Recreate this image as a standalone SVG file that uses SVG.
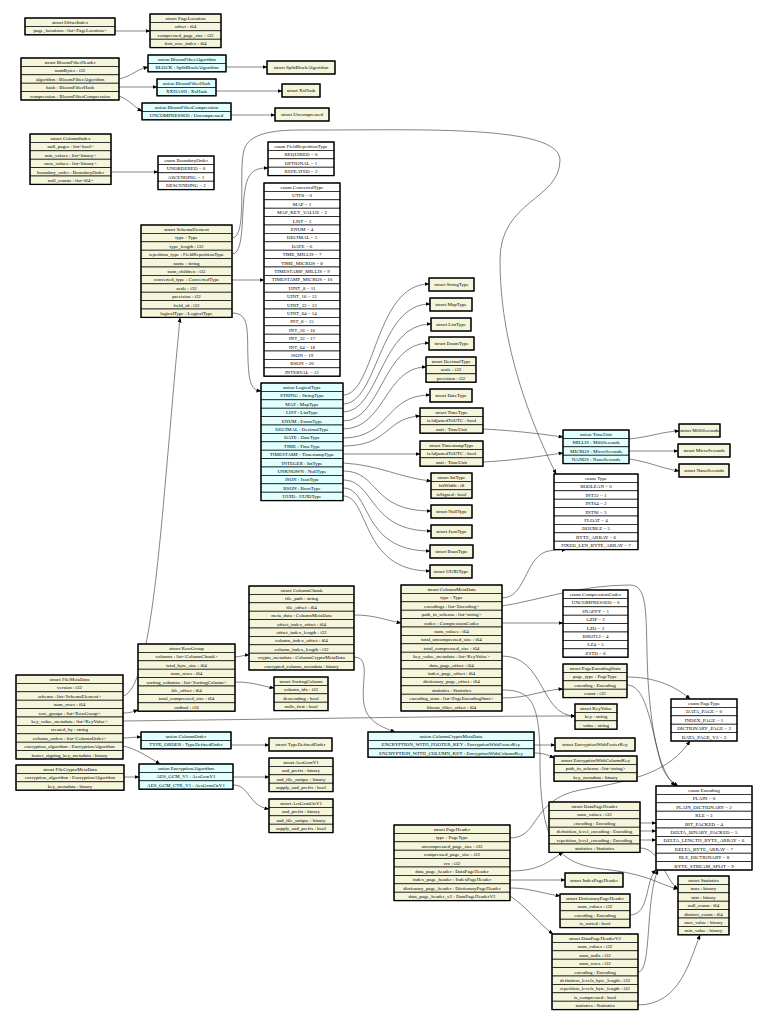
<svg xmlns="http://www.w3.org/2000/svg" width="768" height="1024" viewBox="0 0 768 1024">
<style>
.s rect{fill:#f5f5dc;stroke:#000;stroke-width:.7}
.u rect{fill:#e0ffff;stroke:#000;stroke-width:.7}
.e rect{fill:#fff;stroke:#000;stroke-width:.7}
rect.o{fill:none!important;stroke-width:1.3!important}
text{font-family:"Liberation Serif",serif;font-size:5px;text-anchor:middle;fill:#000}
#edges path{fill:none;stroke:#333;stroke-width:.6;marker-end:url(#a)}
</style>
<defs><marker id="a" markerUnits="userSpaceOnUse" markerWidth="5" markerHeight="4" refX="4.5" refY="2" orient="auto"><path d="M0,0L5,2L0,4z" fill="#000"/></marker></defs>
<rect width="768" height="1024" fill="#fff"/>
<g id="edges">
<path d="M115,31C132,31 135,31 150,31"/>
<path d="M119,79C132,76 135,70 148,67"/>
<path d="M119,87C135,87 140,87 157,87"/>
<path d="M119,96C130,100 135,108 142,111"/>
<path d="M226,67C245,67 250,67 267,67"/>
<path d="M216,91C245,91 260,91 282,91"/>
<path d="M231,115C250,115 260,115 275,115"/>
<path d="M111,172C130,172 140,172 158,172"/>
<path d="M232,238C248,238 238,170 244,150C250,128 290,130 320,130C420,130 560,125 560,160C560,200 500,200 500,260C500,330 520,400 556,474"/>
<path d="M232,254C248,254 238,190 250,175C255,168 262,168 268,168"/>
<path d="M232,280C245,280 250,280 264,280"/>
<path d="M232,313C250,313 247,330 248,360C249,385 252,390 261,391"/>
<path d="M343,395C375,395 375,284 429,284"/>
<path d="M343,404C378,404 378,304 430,304"/>
<path d="M343,412C380,412 380,324 431,324"/>
<path d="M343,421C382,421 382,343 429,343"/>
<path d="M343,429C385,429 385,367 426,367"/>
<path d="M343,438C390,438 385,395 430,395"/>
<path d="M343,446C390,446 385,418 420,416"/>
<path d="M343,454C380,454 390,454 420,454"/>
<path d="M343,463C380,465 400,478 431,481"/>
<path d="M343,471C380,471 370,511 431,511"/>
<path d="M343,480C375,480 368,531 431,531"/>
<path d="M343,488C372,488 360,551 430,551"/>
<path d="M343,496C370,496 360,571 430,571"/>
<path d="M483,429C520,431 540,434 563,437"/>
<path d="M483,462C520,460 540,456 563,453"/>
<path d="M629,439C650,437 660,432 679,431"/>
<path d="M629,451C650,451 660,451 678,451"/>
<path d="M629,459C650,462 660,468 679,471"/>
<path d="M123,696C150,690 160,540 170,430C175,370 178,340 180,318"/>
<path d="M123,713C130,713 132,712 138,710"/>
<path d="M123,721C300,719 450,716 575,716"/>
<path d="M123,738C130,738 134,737 141,737"/>
<path d="M123,746C135,748 150,758 160,764"/>
<path d="M231,745C250,745 255,745 269,745"/>
<path d="M124,777C130,777 133,777 139,777"/>
<path d="M233,777C250,777 255,777 269,777"/>
<path d="M233,785C250,785 248,806 269,809"/>
<path d="M235,657C240,657 243,655 249,655"/>
<path d="M235,682C255,682 260,686 274,688"/>
<path d="M354,615C375,615 385,620 401,623"/>
<path d="M354,657C375,657 355,695 368,715C375,725 385,728 395,732"/>
<path d="M502,598C525,598 525,560 545,552C555,549 562,550 566,549"/>
<path d="M502,606C540,600 580,585 630,585C650,585 645,620 648,680C652,740 660,770 675,786"/>
<path d="M502,623C530,623 540,623 563,623"/>
<path d="M502,656C545,656 540,716 575,716"/>
<path d="M502,690C530,690 540,700 540,760C540,850 560,865 610,870C650,875 660,885 678,889"/>
<path d="M502,698C530,698 540,690 563,689"/>
<path d="M627,677C660,677 680,690 690,699"/>
<path d="M627,685C645,685 650,720 660,760C665,778 672,782 678,786"/>
<path d="M534,745C542,745 548,745 555,745"/>
<path d="M534,753C543,753 548,755 554,758"/>
<path d="M510,838C540,838 530,800 580,790C640,780 670,770 690,741"/>
<path d="M510,871C535,871 545,865 563,852"/>
<path d="M510,880C535,880 545,880 565,880"/>
<path d="M510,888C530,888 540,893 560,896"/>
<path d="M510,896C525,905 540,925 553,934"/>
<path d="M640,823C646,823 650,823 656,823"/>
<path d="M640,831C646,831 650,831 656,831"/>
<path d="M640,840C646,840 650,840 656,840"/>
<path d="M640,848C660,848 665,880 678,889"/>
<path d="M630,915C650,915 645,880 656,870"/>
<path d="M638,972C652,972 645,900 658,870"/>
<path d="M638,1005C680,1005 690,960 700,935"/>
</g>
<g id="OffsetIndex" class="s" transform="translate(25,18)"><rect width="90" height="8.4"/><rect y="8.4" width="90" height="8.4"/><rect class="o" width="90" height="16.8"/><text x="45" y="6">struct OffsetIndex</text><text x="45" y="14.4">page_locations : list&lt;PageLocation&gt;</text></g>
<g id="PageLocation" class="s" transform="translate(150,14)"><rect width="71" height="8.4"/><rect y="8.4" width="71" height="8.4"/><rect y="16.8" width="71" height="8.4"/><rect y="25.2" width="71" height="8.4"/><rect class="o" width="71" height="33.6"/><text x="35.5" y="6">struct PageLocation</text><text x="35.5" y="14.4">offset : i64</text><text x="35.5" y="22.8">compressed_page_size : i32</text><text x="35.5" y="31.2">first_row_index : i64</text></g>
<g id="BloomFilterHeader" class="s" transform="translate(21,58)"><rect width="98" height="8.4"/><rect y="8.4" width="98" height="8.4"/><rect y="16.8" width="98" height="8.4"/><rect y="25.2" width="98" height="8.4"/><rect y="33.6" width="98" height="8.4"/><rect class="o" width="98" height="42"/><text x="49" y="6">struct BloomFilterHeader</text><text x="49" y="14.4">numBytes : i32</text><text x="49" y="22.8">algorithm : BloomFilterAlgorithm</text><text x="49" y="31.2">hash : BloomFilterHash</text><text x="49" y="39.6">compression : BloomFilterCompression</text></g>
<g id="BloomFilterAlgorithm" class="u" transform="translate(148,55)"><rect width="78" height="8.4"/><rect y="8.4" width="78" height="8.4"/><rect class="o" width="78" height="16.8"/><text x="39" y="6">union BloomFilterAlgorithm</text><text x="39" y="14.4">BLOCK : SplitBlockAlgorithm</text></g>
<g id="SplitBlockAlgorithm" class="s" transform="translate(267,61)"><rect width="68" height="13"/><rect class="o" width="68" height="13"/><text x="34" y="8.3">struct SplitBlockAlgorithm</text></g>
<g id="BloomFilterHash" class="u" transform="translate(157,79)"><rect width="59" height="8.4"/><rect y="8.4" width="59" height="8.4"/><rect class="o" width="59" height="16.8"/><text x="29.5" y="6">union BloomFilterHash</text><text x="29.5" y="14.4">XXHASH : XxHash</text></g>
<g id="XxHash" class="s" transform="translate(282,84)"><rect width="38" height="13"/><rect class="o" width="38" height="13"/><text x="19" y="8.3">struct XxHash</text></g>
<g id="BloomFilterCompression" class="u" transform="translate(142,103)"><rect width="89" height="8.4"/><rect y="8.4" width="89" height="8.4"/><rect class="o" width="89" height="16.8"/><text x="44.5" y="6">union BloomFilterCompression</text><text x="44.5" y="14.4">UNCOMPRESSED : Uncompressed</text></g>
<g id="Uncompressed" class="s" transform="translate(275,108)"><rect width="54" height="13"/><rect class="o" width="54" height="13"/><text x="27" y="8.3">struct Uncompressed</text></g>
<g id="ColumnIndex" class="s" transform="translate(30,134)"><rect width="81" height="8.4"/><rect y="8.4" width="81" height="8.4"/><rect y="16.8" width="81" height="8.4"/><rect y="25.2" width="81" height="8.4"/><rect y="33.6" width="81" height="8.4"/><rect y="42" width="81" height="8.4"/><rect class="o" width="81" height="50.4"/><text x="40.5" y="6">struct ColumnIndex</text><text x="40.5" y="14.4">null_pages : list&lt;bool&gt;</text><text x="40.5" y="22.8">min_values : list&lt;binary&gt;</text><text x="40.5" y="31.2">max_values : list&lt;binary&gt;</text><text x="40.5" y="39.6">boundary_order : BoundaryOrder</text><text x="40.5" y="48">null_counts : list&lt;i64&gt;</text></g>
<g id="BoundaryOrder" class="e" transform="translate(158,156)"><rect width="56" height="8.4"/><rect y="8.4" width="56" height="8.4"/><rect y="16.8" width="56" height="8.4"/><rect y="25.2" width="56" height="8.4"/><rect class="o" width="56" height="33.6"/><text x="28" y="6">enum BoundaryOrder</text><text x="28" y="14.4">UNORDERED = 0</text><text x="28" y="22.8">ASCENDING = 1</text><text x="28" y="31.2">DESCENDING = 2</text></g>
<g id="FieldRepetitionType" class="e" transform="translate(268,142)"><rect width="66" height="8.4"/><rect y="8.4" width="66" height="8.4"/><rect y="16.8" width="66" height="8.4"/><rect y="25.2" width="66" height="8.4"/><rect class="o" width="66" height="33.6"/><text x="33" y="6">enum FieldRepetitionType</text><text x="33" y="14.4">REQUIRED = 0</text><text x="33" y="22.8">OPTIONAL = 1</text><text x="33" y="31.2">REPEATED = 2</text></g>
<g id="ConvertedType" class="e" transform="translate(264,183)">
<rect width="76" height="8.4"/><rect y="8.4" width="76" height="8.4"/><rect y="16.8" width="76" height="8.4"/><rect y="25.2" width="76" height="8.4"/><rect y="33.6" width="76" height="8.4"/><rect y="42" width="76" height="8.4"/><rect y="50.4" width="76" height="8.4"/><rect y="58.8" width="76" height="8.4"/><rect y="67.2" width="76" height="8.4"/><rect y="75.6" width="76" height="8.4"/><rect y="84" width="76" height="8.4"/><rect y="92.4" width="76" height="8.4"/><rect y="100.8" width="76" height="8.4"/><rect y="109.2" width="76" height="8.4"/><rect y="117.6" width="76" height="8.4"/><rect y="126" width="76" height="8.4"/><rect y="134.4" width="76" height="8.4"/><rect y="142.8" width="76" height="8.4"/><rect y="151.2" width="76" height="8.4"/><rect y="159.6" width="76" height="8.4"/><rect y="168" width="76" height="8.4"/><rect y="176.4" width="76" height="8.4"/><rect y="184.8" width="76" height="8.4"/><rect class="o" width="76" height="193.2"/>
<text x="38" y="6">enum ConvertedType</text><text x="38" y="14.4">UTF8 = 0</text><text x="38" y="22.8">MAP = 1</text><text x="38" y="31.2">MAP_KEY_VALUE = 2</text><text x="38" y="39.6">LIST = 3</text><text x="38" y="48">ENUM = 4</text><text x="38" y="56.4">DECIMAL = 5</text><text x="38" y="64.8">DATE = 6</text><text x="38" y="73.2">TIME_MILLIS = 7</text><text x="38" y="81.6">TIME_MICROS = 8</text><text x="38" y="90">TIMESTAMP_MILLIS = 9</text><text x="38" y="98.4">TIMESTAMP_MICROS = 10</text><text x="38" y="106.8">UINT_8 = 11</text><text x="38" y="115.2">UINT_16 = 12</text><text x="38" y="123.6">UINT_32 = 13</text><text x="38" y="132">UINT_64 = 14</text><text x="38" y="140.4">INT_8 = 15</text><text x="38" y="148.8">INT_16 = 16</text><text x="38" y="157.2">INT_32 = 17</text><text x="38" y="165.6">INT_64 = 18</text><text x="38" y="174">JSON = 19</text><text x="38" y="182.4">BSON = 20</text><text x="38" y="190.8">INTERVAL = 21</text></g>
<g id="SchemaElement" class="s" transform="translate(141,225)">
<rect width="91" height="8.4"/><rect y="8.4" width="91" height="8.4"/><rect y="16.8" width="91" height="8.4"/><rect y="25.2" width="91" height="8.4"/><rect y="33.6" width="91" height="8.4"/><rect y="42" width="91" height="8.4"/><rect y="50.4" width="91" height="8.4"/><rect y="58.8" width="91" height="8.4"/><rect y="67.2" width="91" height="8.4"/><rect y="75.6" width="91" height="8.4"/><rect y="84" width="91" height="8.4"/><rect class="o" width="91" height="92.4"/>
<text x="45.5" y="6">struct SchemaElement</text><text x="45.5" y="14.4">type : Type</text><text x="45.5" y="22.8">type_length : i32</text><text x="45.5" y="31.2">repetition_type : FieldRepetitionType</text><text x="45.5" y="39.6">name : string</text><text x="45.5" y="48">num_children : i32</text><text x="45.5" y="56.4">converted_type : ConvertedType</text><text x="45.5" y="64.8">scale : i32</text><text x="45.5" y="73.2">precision : i32</text><text x="45.5" y="81.6">field_id : i32</text><text x="45.5" y="90">logicalType : LogicalType</text></g>
<g id="LogicalType" class="u" transform="translate(261,383)">
<rect width="82" height="8.4"/><rect y="8.4" width="82" height="8.4"/><rect y="16.8" width="82" height="8.4"/><rect y="25.2" width="82" height="8.4"/><rect y="33.6" width="82" height="8.4"/><rect y="42" width="82" height="8.4"/><rect y="50.4" width="82" height="8.4"/><rect y="58.8" width="82" height="8.4"/><rect y="67.2" width="82" height="8.4"/><rect y="75.6" width="82" height="8.4"/><rect y="84" width="82" height="8.4"/><rect y="92.4" width="82" height="8.4"/><rect y="100.8" width="82" height="8.4"/><rect y="109.2" width="82" height="8.4"/><rect class="o" width="82" height="117.6"/>
<text x="41" y="6">union LogicalType</text><text x="41" y="14.4">STRING : StringType</text><text x="41" y="22.8">MAP : MapType</text><text x="41" y="31.2">LIST : ListType</text><text x="41" y="39.6">ENUM : EnumType</text><text x="41" y="48">DECIMAL : DecimalType</text><text x="41" y="56.4">DATE : DateType</text><text x="41" y="64.8">TIME : TimeType</text><text x="41" y="73.2">TIMESTAMP : TimestampType</text><text x="41" y="81.6">INTEGER : IntType</text><text x="41" y="90">UNKNOWN : NullType</text><text x="41" y="98.4">JSON : JsonType</text><text x="41" y="106.8">BSON : BsonType</text><text x="41" y="115.2">UUID : UUIDType</text></g>
<g id="StringType" class="s" transform="translate(429,278)"><rect width="45" height="13"/><rect class="o" width="45" height="13"/><text x="22.5" y="8.3">struct StringType</text></g>
<g id="MapType" class="s" transform="translate(430,298)"><rect width="42" height="13"/><rect class="o" width="42" height="13"/><text x="21" y="8.3">struct MapType</text></g>
<g id="ListType" class="s" transform="translate(431,318)"><rect width="40" height="13"/><rect class="o" width="40" height="13"/><text x="20" y="8.3">struct ListType</text></g>
<g id="EnumType" class="s" transform="translate(429,337)"><rect width="45" height="13"/><rect class="o" width="45" height="13"/><text x="22.5" y="8.3">struct EnumType</text></g>
<g id="DecimalType" class="s" transform="translate(426,357)"><rect width="50" height="8.4"/><rect y="8.4" width="50" height="8.4"/><rect y="16.8" width="50" height="8.4"/><rect class="o" width="50" height="25.2"/><text x="25" y="6">struct DecimalType</text><text x="25" y="14.4">scale : i32</text><text x="25" y="22.8">precision : i32</text></g>
<g id="DateType" class="s" transform="translate(430,389)"><rect width="42" height="13"/><rect class="o" width="42" height="13"/><text x="21" y="8.3">struct DateType</text></g>
<g id="TimeType" class="s" transform="translate(420,408)"><rect width="63" height="8.4"/><rect y="8.4" width="63" height="8.4"/><rect y="16.8" width="63" height="8.4"/><rect class="o" width="63" height="25.2"/><text x="31.5" y="6">struct TimeType</text><text x="31.5" y="14.4">isAdjustedToUTC : bool</text><text x="31.5" y="22.8">unit : TimeUnit</text></g>
<g id="TimestampType" class="s" transform="translate(420,441)"><rect width="63" height="8.4"/><rect y="8.4" width="63" height="8.4"/><rect y="16.8" width="63" height="8.4"/><rect class="o" width="63" height="25.2"/><text x="31.5" y="6">struct TimestampType</text><text x="31.5" y="14.4">isAdjustedToUTC : bool</text><text x="31.5" y="22.8">unit : TimeUnit</text></g>
<g id="IntType" class="s" transform="translate(431,473)"><rect width="41" height="8.4"/><rect y="8.4" width="41" height="8.4"/><rect y="16.8" width="41" height="8.4"/><rect class="o" width="41" height="25.2"/><text x="20.5" y="6">struct IntType</text><text x="20.5" y="14.4">bitWidth : i8</text><text x="20.5" y="22.8">isSigned : bool</text></g>
<g id="NullType" class="s" transform="translate(431,505)"><rect width="41" height="13"/><rect class="o" width="41" height="13"/><text x="20.5" y="8.3">struct NullType</text></g>
<g id="JsonType" class="s" transform="translate(431,525)"><rect width="41" height="13"/><rect class="o" width="41" height="13"/><text x="20.5" y="8.3">struct JsonType</text></g>
<g id="BsonType" class="s" transform="translate(430,545)"><rect width="43" height="13"/><rect class="o" width="43" height="13"/><text x="21.5" y="8.3">struct BsonType</text></g>
<g id="UUIDType" class="s" transform="translate(430,565)"><rect width="42" height="13"/><rect class="o" width="42" height="13"/><text x="21" y="8.3">struct UUIDType</text></g>
<g id="TimeUnit" class="u" transform="translate(563,430)"><rect width="66" height="8.4"/><rect y="8.4" width="66" height="8.4"/><rect y="16.8" width="66" height="8.4"/><rect y="25.2" width="66" height="8.4"/><rect class="o" width="66" height="33.6"/><text x="33" y="6">union TimeUnit</text><text x="33" y="14.4">MILLIS : MilliSeconds</text><text x="33" y="22.8">MICROS : MicroSeconds</text><text x="33" y="31.2">NANOS : NanoSeconds</text></g>
<g id="MilliSeconds" class="s" transform="translate(679,424)"><rect width="41" height="13"/><rect class="o" width="41" height="13"/><text x="20.5" y="8.3">struct MilliSeconds</text></g>
<g id="MicroSeconds" class="s" transform="translate(678,444)"><rect width="52" height="13"/><rect class="o" width="52" height="13"/><text x="26" y="8.3">struct MicroSeconds</text></g>
<g id="NanoSeconds" class="s" transform="translate(679,464)"><rect width="50" height="13"/><rect class="o" width="50" height="13"/><text x="25" y="8.3">struct NanoSeconds</text></g>
<g id="Type" class="e" transform="translate(554,474)"><rect width="84" height="8.4"/><rect y="8.4" width="84" height="8.4"/><rect y="16.8" width="84" height="8.4"/><rect y="25.2" width="84" height="8.4"/><rect y="33.6" width="84" height="8.4"/><rect y="42" width="84" height="8.4"/><rect y="50.4" width="84" height="8.4"/><rect y="58.8" width="84" height="8.4"/><rect y="67.2" width="84" height="8.4"/><rect class="o" width="84" height="75.6"/><text x="42" y="6">enum Type</text><text x="42" y="14.4">BOOLEAN = 0</text><text x="42" y="22.8">INT32 = 1</text><text x="42" y="31.2">INT64 = 2</text><text x="42" y="39.6">INT96 = 3</text><text x="42" y="48">FLOAT = 4</text><text x="42" y="56.4">DOUBLE = 5</text><text x="42" y="64.8">BYTE_ARRAY = 6</text><text x="42" y="73.2">FIXED_LEN_BYTE_ARRAY = 7</text></g>
<g id="ColumnChunk" class="s" transform="translate(249,586)"><rect width="105" height="8.4"/><rect y="8.4" width="105" height="8.4"/><rect y="16.8" width="105" height="8.4"/><rect y="25.2" width="105" height="8.4"/><rect y="33.6" width="105" height="8.4"/><rect y="42" width="105" height="8.4"/><rect y="50.4" width="105" height="8.4"/><rect y="58.8" width="105" height="8.4"/><rect y="67.2" width="105" height="8.4"/><rect y="75.6" width="105" height="8.4"/><rect class="o" width="105" height="84"/><text x="52.5" y="6">struct ColumnChunk</text><text x="52.5" y="14.4">file_path : string</text><text x="52.5" y="22.8">file_offset : i64</text><text x="52.5" y="31.2">meta_data : ColumnMetaData</text><text x="52.5" y="39.6">offset_index_offset : i64</text><text x="52.5" y="48">offset_index_length : i32</text><text x="52.5" y="56.4">column_index_offset : i64</text><text x="52.5" y="64.8">column_index_length : i32</text><text x="52.5" y="73.2">crypto_metadata : ColumnCryptoMetaData</text><text x="52.5" y="81.6">encrypted_column_metadata : binary</text></g>
<g id="RowGroup" class="s" transform="translate(138,644)"><rect width="97" height="8.4"/><rect y="8.4" width="97" height="8.4"/><rect y="16.8" width="97" height="8.4"/><rect y="25.2" width="97" height="8.4"/><rect y="33.6" width="97" height="8.4"/><rect y="42" width="97" height="8.4"/><rect y="50.4" width="97" height="8.4"/><rect y="58.8" width="97" height="8.4"/><rect class="o" width="97" height="67.2"/><text x="48.5" y="6">struct RowGroup</text><text x="48.5" y="14.4">columns : list&lt;ColumnChunk&gt;</text><text x="48.5" y="22.8">total_byte_size : i64</text><text x="48.5" y="31.2">num_rows : i64</text><text x="48.5" y="39.6">sorting_columns : list&lt;SortingColumn&gt;</text><text x="48.5" y="48">file_offset : i64</text><text x="48.5" y="56.4">total_compressed_size : i64</text><text x="48.5" y="64.8">ordinal : i16</text></g>
<g id="SortingColumn" class="s" transform="translate(274,677)"><rect width="54" height="8.4"/><rect y="8.4" width="54" height="8.4"/><rect y="16.8" width="54" height="8.4"/><rect y="25.2" width="54" height="8.4"/><rect class="o" width="54" height="33.6"/><text x="27" y="6">struct SortingColumn</text><text x="27" y="14.4">column_idx : i32</text><text x="27" y="22.8">descending : bool</text><text x="27" y="31.2">nulls_first : bool</text></g>
<g id="FileMetaData" class="s" transform="translate(16,675)"><rect width="107" height="8.4"/><rect y="8.4" width="107" height="8.4"/><rect y="16.8" width="107" height="8.4"/><rect y="25.2" width="107" height="8.4"/><rect y="33.6" width="107" height="8.4"/><rect y="42" width="107" height="8.4"/><rect y="50.4" width="107" height="8.4"/><rect y="58.8" width="107" height="8.4"/><rect y="67.2" width="107" height="8.4"/><rect y="75.6" width="107" height="8.4"/><rect class="o" width="107" height="84"/><text x="53.5" y="6">struct FileMetaData</text><text x="53.5" y="14.4">version : i32</text><text x="53.5" y="22.8">schema : list&lt;SchemaElement&gt;</text><text x="53.5" y="31.2">num_rows : i64</text><text x="53.5" y="39.6">row_groups : list&lt;RowGroup&gt;</text><text x="53.5" y="48">key_value_metadata : list&lt;KeyValue&gt;</text><text x="53.5" y="56.4">created_by : string</text><text x="53.5" y="64.8">column_orders : list&lt;ColumnOrder&gt;</text><text x="53.5" y="73.2">encryption_algorithm : EncryptionAlgorithm</text><text x="53.5" y="81.6">footer_signing_key_metadata : binary</text></g>
<g id="ColumnOrder" class="u" transform="translate(141,732)"><rect width="90" height="8.4"/><rect y="8.4" width="90" height="8.4"/><rect class="o" width="90" height="16.8"/><text x="45" y="6">union ColumnOrder</text><text x="45" y="14.4">TYPE_ORDER : TypeDefinedOrder</text></g>
<g id="TypeDefinedOrder" class="s" transform="translate(269,738)"><rect width="63" height="13"/><rect class="o" width="63" height="13"/><text x="31.5" y="8.3">struct TypeDefinedOrder</text></g>
<g id="FileCryptoMetaData" class="s" transform="translate(16,765)"><rect width="108" height="8.4"/><rect y="8.4" width="108" height="8.4"/><rect y="16.8" width="108" height="8.4"/><rect class="o" width="108" height="25.2"/><text x="54" y="6">struct FileCryptoMetaData</text><text x="54" y="14.4">encryption_algorithm : EncryptionAlgorithm</text><text x="54" y="22.8">key_metadata : binary</text></g>
<g id="EncryptionAlgorithm" class="u" transform="translate(139,764)"><rect width="94" height="8.4"/><rect y="8.4" width="94" height="8.4"/><rect y="16.8" width="94" height="8.4"/><rect class="o" width="94" height="25.2"/><text x="47" y="6">union EncryptionAlgorithm</text><text x="47" y="14.4">AES_GCM_V1 : AesGcmV1</text><text x="47" y="22.8">AES_GCM_CTR_V1 : AesGcmCtrV1</text></g>
<g id="AesGcmV1" class="s" transform="translate(269,758)"><rect width="64" height="8.4"/><rect y="8.4" width="64" height="8.4"/><rect y="16.8" width="64" height="8.4"/><rect y="25.2" width="64" height="8.4"/><rect class="o" width="64" height="33.6"/><text x="32" y="6">struct AesGcmV1</text><text x="32" y="14.4">aad_prefix : binary</text><text x="32" y="22.8">aad_file_unique : binary</text><text x="32" y="31.2">supply_aad_prefix : bool</text></g>
<g id="AesGcmCtrV1" class="s" transform="translate(269,799)"><rect width="64" height="8.4"/><rect y="8.4" width="64" height="8.4"/><rect y="16.8" width="64" height="8.4"/><rect y="25.2" width="64" height="8.4"/><rect class="o" width="64" height="33.6"/><text x="32" y="6">struct AesGcmCtrV1</text><text x="32" y="14.4">aad_prefix : binary</text><text x="32" y="22.8">aad_file_unique : binary</text><text x="32" y="31.2">supply_aad_prefix : bool</text></g>
<g id="ColumnMetaData" class="s" transform="translate(401,585)"><rect width="101" height="8.4"/><rect y="8.4" width="101" height="8.4"/><rect y="16.8" width="101" height="8.4"/><rect y="25.2" width="101" height="8.4"/><rect y="33.6" width="101" height="8.4"/><rect y="42" width="101" height="8.4"/><rect y="50.4" width="101" height="8.4"/><rect y="58.8" width="101" height="8.4"/><rect y="67.2" width="101" height="8.4"/><rect y="75.6" width="101" height="8.4"/><rect y="84" width="101" height="8.4"/><rect y="92.4" width="101" height="8.4"/><rect y="100.8" width="101" height="8.4"/><rect y="109.2" width="101" height="8.4"/><rect y="117.6" width="101" height="8.4"/><rect class="o" width="101" height="126"/><text x="50.5" y="6">struct ColumnMetaData</text><text x="50.5" y="14.4">type : Type</text><text x="50.5" y="22.8">encodings : list&lt;Encoding&gt;</text><text x="50.5" y="31.2">path_in_schema : list&lt;string&gt;</text><text x="50.5" y="39.6">codec : CompressionCodec</text><text x="50.5" y="48">num_values : i64</text><text x="50.5" y="56.4">total_uncompressed_size : i64</text><text x="50.5" y="64.8">total_compressed_size : i64</text><text x="50.5" y="73.2">key_value_metadata : list&lt;KeyValue&gt;</text><text x="50.5" y="81.6">data_page_offset : i64</text><text x="50.5" y="90">index_page_offset : i64</text><text x="50.5" y="98.4">dictionary_page_offset : i64</text><text x="50.5" y="106.8">statistics : Statistics</text><text x="50.5" y="115.2">encoding_stats : list&lt;PageEncodingStats&gt;</text><text x="50.5" y="123.6">bloom_filter_offset : i64</text></g>
<g id="CompressionCodec" class="e" transform="translate(563,590)"><rect width="65" height="8.4"/><rect y="8.4" width="65" height="8.4"/><rect y="16.8" width="65" height="8.4"/><rect y="25.2" width="65" height="8.4"/><rect y="33.6" width="65" height="8.4"/><rect y="42" width="65" height="8.4"/><rect y="50.4" width="65" height="8.4"/><rect y="58.8" width="65" height="8.4"/><rect class="o" width="65" height="67.2"/><text x="32.5" y="6">enum CompressionCodec</text><text x="32.5" y="14.4">UNCOMPRESSED = 0</text><text x="32.5" y="22.8">SNAPPY = 1</text><text x="32.5" y="31.2">GZIP = 2</text><text x="32.5" y="39.6">LZO = 3</text><text x="32.5" y="48">BROTLI = 4</text><text x="32.5" y="56.4">LZ4 = 5</text><text x="32.5" y="64.8">ZSTD = 6</text></g>
<g id="PageEncodingStats" class="s" transform="translate(563,664)"><rect width="64" height="8.4"/><rect y="8.4" width="64" height="8.4"/><rect y="16.8" width="64" height="8.4"/><rect y="25.2" width="64" height="8.4"/><rect class="o" width="64" height="33.6"/><text x="32" y="6">struct PageEncodingStats</text><text x="32" y="14.4">page_type : PageType</text><text x="32" y="22.8">encoding : Encoding</text><text x="32" y="31.2">count : i32</text></g>
<g id="KeyValue" class="s" transform="translate(575,704)"><rect width="42" height="8.4"/><rect y="8.4" width="42" height="8.4"/><rect y="16.8" width="42" height="8.4"/><rect class="o" width="42" height="25.2"/><text x="21" y="6">struct KeyValue</text><text x="21" y="14.4">key : string</text><text x="21" y="22.8">value : string</text></g>
<g id="ColumnCryptoMetaData" class="u" transform="translate(368,732)"><rect width="166" height="8.4"/><rect y="8.4" width="166" height="8.4"/><rect y="16.8" width="166" height="8.4"/><rect class="o" width="166" height="25.2"/><text x="83" y="6">union ColumnCryptoMetaData</text><text x="83" y="14.4">ENCRYPTION_WITH_FOOTER_KEY : EncryptionWithFooterKey</text><text x="83" y="22.8">ENCRYPTION_WITH_COLUMN_KEY : EncryptionWithColumnKey</text></g>
<g id="EncryptionWithFooterKey" class="s" transform="translate(555,738)"><rect width="80" height="13"/><rect class="o" width="80" height="13"/><text x="40" y="8.3">struct EncryptionWithFooterKey</text></g>
<g id="EncryptionWithColumnKey" class="s" transform="translate(554,756)"><rect width="83" height="8.4"/><rect y="8.4" width="83" height="8.4"/><rect y="16.8" width="83" height="8.4"/><rect class="o" width="83" height="25.2"/><text x="41.5" y="6">struct EncryptionWithColumnKey</text><text x="41.5" y="14.4">path_in_schema : list&lt;string&gt;</text><text x="41.5" y="22.8">key_metadata : binary</text></g>
<g id="PageType" class="e" transform="translate(671,699)"><rect width="66" height="8.4"/><rect y="8.4" width="66" height="8.4"/><rect y="16.8" width="66" height="8.4"/><rect y="25.2" width="66" height="8.4"/><rect y="33.6" width="66" height="8.4"/><rect class="o" width="66" height="42"/><text x="33" y="6">enum PageType</text><text x="33" y="14.4">DATA_PAGE = 0</text><text x="33" y="22.8">INDEX_PAGE = 1</text><text x="33" y="31.2">DICTIONARY_PAGE = 2</text><text x="33" y="39.6">DATA_PAGE_V2 = 3</text></g>
<g id="Encoding" class="e" transform="translate(656,786)"><rect width="96" height="8.4"/><rect y="8.4" width="96" height="8.4"/><rect y="16.8" width="96" height="8.4"/><rect y="25.2" width="96" height="8.4"/><rect y="33.6" width="96" height="8.4"/><rect y="42" width="96" height="8.4"/><rect y="50.4" width="96" height="8.4"/><rect y="58.8" width="96" height="8.4"/><rect y="67.2" width="96" height="8.4"/><rect y="75.6" width="96" height="8.4"/><rect class="o" width="96" height="84"/><text x="48" y="6">enum Encoding</text><text x="48" y="14.4">PLAIN = 0</text><text x="48" y="22.8">PLAIN_DICTIONARY = 2</text><text x="48" y="31.2">RLE = 3</text><text x="48" y="39.6">BIT_PACKED = 4</text><text x="48" y="48">DELTA_BINARY_PACKED = 5</text><text x="48" y="56.4">DELTA_LENGTH_BYTE_ARRAY = 6</text><text x="48" y="64.8">DELTA_BYTE_ARRAY = 7</text><text x="48" y="73.2">RLE_DICTIONARY = 8</text><text x="48" y="81.6">BYTE_STREAM_SPLIT = 9</text></g>
<g id="DataPageHeader" class="s" transform="translate(549,802)"><rect width="91" height="8.4"/><rect y="8.4" width="91" height="8.4"/><rect y="16.8" width="91" height="8.4"/><rect y="25.2" width="91" height="8.4"/><rect y="33.6" width="91" height="8.4"/><rect y="42" width="91" height="8.4"/><rect class="o" width="91" height="50.4"/><text x="45.5" y="6">struct DataPageHeader</text><text x="45.5" y="14.4">num_values : i32</text><text x="45.5" y="22.8">encoding : Encoding</text><text x="45.5" y="31.2">definition_level_encoding : Encoding</text><text x="45.5" y="39.6">repetition_level_encoding : Encoding</text><text x="45.5" y="48">statistics : Statistics</text></g>
<g id="PageHeader" class="s" transform="translate(394,825)"><rect width="116" height="8.4"/><rect y="8.4" width="116" height="8.4"/><rect y="16.8" width="116" height="8.4"/><rect y="25.2" width="116" height="8.4"/><rect y="33.6" width="116" height="8.4"/><rect y="42" width="116" height="8.4"/><rect y="50.4" width="116" height="8.4"/><rect y="58.8" width="116" height="8.4"/><rect y="67.2" width="116" height="8.4"/><rect class="o" width="116" height="75.6"/><text x="58" y="6">struct PageHeader</text><text x="58" y="14.4">type : PageType</text><text x="58" y="22.8">uncompressed_page_size : i32</text><text x="58" y="31.2">compressed_page_size : i32</text><text x="58" y="39.6">crc : i32</text><text x="58" y="48">data_page_header : DataPageHeader</text><text x="58" y="56.4">index_page_header : IndexPageHeader</text><text x="58" y="64.8">dictionary_page_header : DictionaryPageHeader</text><text x="58" y="73.2">data_page_header_v2 : DataPageHeaderV2</text></g>
<g id="IndexPageHeader" class="s" transform="translate(565,873)"><rect width="58" height="14"/><rect class="o" width="58" height="14"/><text x="29" y="8.8">struct IndexPageHeader</text></g>
<g id="DictionaryPageHeader" class="s" transform="translate(560,894)"><rect width="70" height="8.4"/><rect y="8.4" width="70" height="8.4"/><rect y="16.8" width="70" height="8.4"/><rect y="25.2" width="70" height="8.4"/><rect class="o" width="70" height="33.6"/><text x="35" y="6">struct DictionaryPageHeader</text><text x="35" y="14.4">num_values : i32</text><text x="35" y="22.8">encoding : Encoding</text><text x="35" y="31.2">is_sorted : bool</text></g>
<g id="DataPageHeaderV2" class="s" transform="translate(552,934)"><rect width="86" height="8.4"/><rect y="8.4" width="86" height="8.4"/><rect y="16.8" width="86" height="8.4"/><rect y="25.2" width="86" height="8.4"/><rect y="33.6" width="86" height="8.4"/><rect y="42" width="86" height="8.4"/><rect y="50.4" width="86" height="8.4"/><rect y="58.8" width="86" height="8.4"/><rect y="67.2" width="86" height="8.4"/><rect class="o" width="86" height="75.6"/><text x="43" y="6">struct DataPageHeaderV2</text><text x="43" y="14.4">num_values : i32</text><text x="43" y="22.8">num_nulls : i32</text><text x="43" y="31.2">num_rows : i32</text><text x="43" y="39.6">encoding : Encoding</text><text x="43" y="48">definition_levels_byte_length : i32</text><text x="43" y="56.4">repetition_levels_byte_length : i32</text><text x="43" y="64.8">is_compressed : bool</text><text x="43" y="73.2">statistics : Statistics</text></g>
<g id="Statistics" class="s" transform="translate(678,876)"><rect width="51" height="8.4"/><rect y="8.4" width="51" height="8.4"/><rect y="16.8" width="51" height="8.4"/><rect y="25.2" width="51" height="8.4"/><rect y="33.6" width="51" height="8.4"/><rect y="42" width="51" height="8.4"/><rect y="50.4" width="51" height="8.4"/><rect class="o" width="51" height="58.8"/><text x="25.5" y="6">struct Statistics</text><text x="25.5" y="14.4">max : binary</text><text x="25.5" y="22.8">min : binary</text><text x="25.5" y="31.2">null_count : i64</text><text x="25.5" y="39.6">distinct_count : i64</text><text x="25.5" y="48">max_value : binary</text><text x="25.5" y="56.4">min_value : binary</text></g>
</svg>
